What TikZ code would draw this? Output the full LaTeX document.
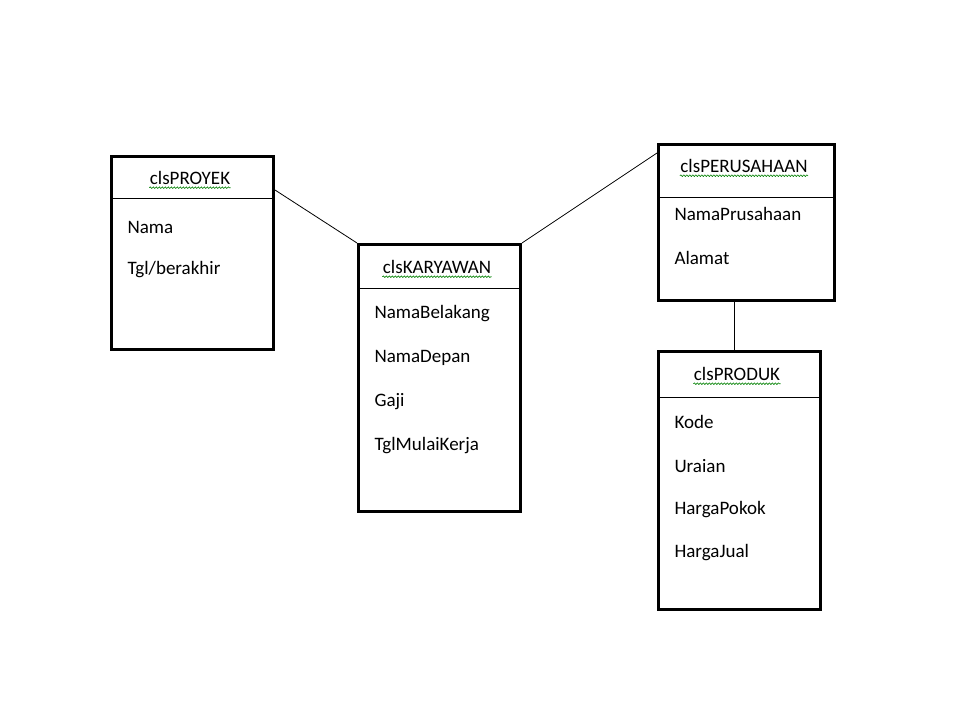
\documentclass[tikz,border=0pt]{standalone}
\usepackage{fontspec}
\setmainfont{Carlito}
\usetikzlibrary{decorations.pathmorphing}
\begin{document}
\begin{tikzpicture}[x=1pt,y=-1pt,
  cls/.style={draw,line width=3pt,anchor=north west,inner sep=0pt},
  attr/.style={anchor=west,font=\fontsize{19}{21}\selectfont},
  ttl/.style={anchor=center,font=\fontsize{19}{21}\selectfont},
  squig/.style={draw=green!50!black,line width=0.6pt,decorate,decoration={snake,amplitude=0.8pt,segment length=3pt}},
  conn/.style={line width=0.8pt}]
\useasboundingbox (0,0) rectangle (960,720);
% boxes
\node[cls,minimum width=162pt,minimum height=193pt] (pr) at (110,155) {};
\node[cls,minimum width=162pt,minimum height=267pt] (ky) at (357,243) {};
\node[cls,minimum width=176pt,minimum height=156pt] (pe) at (657,143) {};
\node[cls,minimum width=162pt,minimum height=258pt] (pd) at (657,350) {};
% header lines
\draw[line width=0.8pt] (110,198) -- (272,198);
\draw[line width=0.8pt] (357,288) -- (519,288);
\draw[line width=0.8pt] (657,197) -- (833,197);
\draw[line width=0.8pt] (657,397) -- (819,397);
% titles
\node[ttl] (t1) at (190,178) {clsPROYEK};
\node[ttl] (t2) at (437,267) {clsKARYAWAN};
\node[ttl] (t3) at (744,166) {clsPERUSAHAAN};
\node[ttl] (t4) at (737,374) {clsPRODUK};
\foreach \n in {t1,t2,t3,t4}{\draw[squig] ([xshift=3pt,yshift=0.5pt]\n.south west) -- ([xshift=-3pt,yshift=0.5pt]\n.south east);}
% attributes
\node[attr] (a1) at (124,227) {Nama};
\node[attr] (a2) at (124,270) {Tgl/berakhir};
\node[attr] (b1) at (371,314) {NamaBelakang};
\node[attr] (b2) at (371,358) {NamaDepan};
\node[attr] (b3) at (371,402) {Gaji};
\node[attr] (b4) at (371,446) {TglMulaiKerja};
\node[attr] (c1) at (671,214) {NamaPrusahaan};
\node[attr] (c2) at (671,258) {Alamat};
\node[attr] (d1) at (671,422) {Kode};
\node[attr] (d2) at (671,466) {Uraian};
\node[attr] (d3) at (671,510) {HargaPokok};
\node[attr] (d4) at (671,553) {HargaJual};
% connectors
\draw[conn] ([yshift=-35pt]pr.north east) -- (ky.north west);
\draw[conn] (ky.north east) -- ([yshift=-10pt]pe.north west);
\draw[conn] ([xshift=-12pt]pe.south) -- ([xshift=-12pt]pe.south |- pd.north);
\end{tikzpicture}
\end{document}
